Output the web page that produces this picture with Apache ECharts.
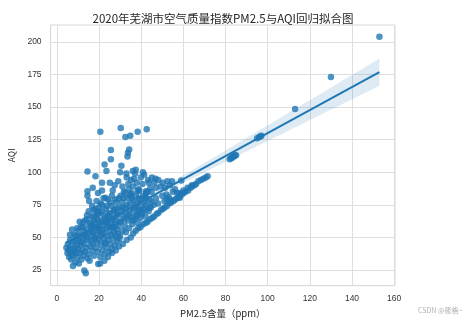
<!DOCTYPE html>
<html>
<head>
<meta charset="utf-8">
<script src="https://cdn.jsdelivr.net/npm/echarts@6/dist/echarts.min.js"></script>
<style>
  html, body { margin: 0; padding: 0; background: #fff; }
  #chart { width: 474px; height: 323px; }
</style>
</head>
<body>
<div id="chart"></div>
<script>
// Daily observations for 2020: [PM2.5, AQI]
const cleanDays = [
  [4.5,42],[5,38],[5.2,45],[5.8,35],[6,41],[6.3,48],[6.8,33],[7.6,28],[7,44],[7.4,39],
  [7.9,36],[8,47],[8.4,42],[8.8,31],[9,38],[9.1,51],[9.5,44],[9.8,35],[10,41],[10.2,55],
  [10.4,30],[10.6,47],[11,38],[11.2,44],[11.4,58],[11.6,33],[12,40],[12.1,49],[12.2,61],[12.6,36],
  [13,24.5],[13,45],[13.2,52],[13.7,22.5],[13.5,39],[14,42],[14.1,56],[14.2,64],[14.5,34],[14.6,48],
  [15,37],[15,53],[15.2,60],[9.6,57],[8.3,52],[10.8,62],[6.2,52],[7.2,56],[8.6,40],[11.8,46],
  [12.8,54],[13.8,50],[5.5,40],[6.6,37],[9.3,47],[10.9,51]
];
const mildDays = [
  [15.5,32],[15.8,43],[16,47],[16.2,51],[16.4,58],[16.6,66],[16.8,40],[17,45],[17.2,54],[17.4,71],
  [17.6,36],[17.8,49],[18,61],[18.3,57],[18.5,42],[18.7,52],[19,46],[19.2,64],[19.6,29.5],[19.4,39],
  [19.8,55],[20,48],[20.2,69],[20.4,59],[20.6,35],[20.8,51],[21,44],[21.2,63],[21.4,75],[21.6,40],
  [21.8,56],[22,49],[22.2,67],[22.4,53],[22.6,37],[22.8,60],[23,46],[23.2,72],[23.4,57],[23.6,42],
  [23.8,64],[24,51],[24.2,79],[24.4,48],[24.6,59],[24.8,39],[25,55],[25.2,68],[25.4,45],[25.6,62],
  [25.8,52],[26,74],[26.2,41],[26.4,58],[26.6,49],[26.8,65],[27,54],[27.2,70],[27.4,44],[27.6,60],
  [27.8,51],[28,63],[28.2,77],[28.4,56],[28.6,47],[28.8,67],[29,53],[29.2,59],[29.4,73],[29.6,49],
  [29.8,62],[18.9,67],[19.9,73],[17.5,63],[21.5,53],[23.9,61],[26.3,64],[16.9,59],[22.7,45],[24.3,66],
  [27.1,58],[20.3,56],[18.1,50]
];
const busyDays = [
  [12.4,58],[13.3,63],[14.3,67],[15.1,70],[15.9,61],[16.7,74],[17.3,66],[18.2,72],[18.8,78],[19.5,68],
  [20.1,62],[20.7,76],[21.3,70],[22.1,80],[22.9,65],[23.7,74],[24.5,69],[25.3,77],[26.1,82],[26.9,71],
  [27.7,79],[28.5,68],[29.3,80],[16.3,55],[19.3,58],[23.1,62],[25.9,58],[28.1,72]
];
const moderateDays = [
  [30,51],[30.3,62],[30.6,70],[30.9,77],[31.2,55],[31.5,66],[31.8,85],[32.1,59],[32.4,73],[32.7,54],
  [33,68],[33.3,80],[33.6,63],[33.9,91],[34.2,57],[34.5,71],[34.8,76],[35.1,65],[35.4,84],[35.7,60],
  [36,69],[36.3,78],[36.6,95],[36.9,64],[37.2,73],[37.5,82],[37.8,67],[38.1,76],[38.4,61],[38.7,87],
  [39,71],[39.3,79],[39.6,65],[39.9,74],[40.4,68],[40.8,82],[41.2,72],[41.6,77],[42,66],[42.5,75],
  [43,85],[43.5,70],[44,79],[44.5,73],[31,73],[32,64],[34,67],[36.5,73],[38.5,70],[33.2,75],[35.6,80]
];
const lineDays = [
  [30.2,82],[31.1,89],[32.3,84],[33.1,96],[34.1,87],[35.2,94],[36.1,89],[37.1,99],[37.9,92],[39.1,86],
  [39.8,96],[40.6,91],[41.4,98],[42.4,84],[43.2,94],[44.3,88],[45.1,96],[46.2,92],[47.1,88],[48.1,94],
  [49.2,89],[50.2,92],[51.3,88],[52.4,93],[53.5,90],[54.6,93],
  [34.7,82],[38.9,80],[41.9,81],[44.9,85],[46.8,95]
];
// Days where PM2.5 is the primary pollutant
const pm25LedDays = [
  [20.5,30],[22.5,32],[24.2,35],[26.1,38],[27.9,40],[29.5,43],[31.3,45],[33.1,48],[35,50],
  [36.2,53],[37.4,55],[38.6,57],[39.7,58],[40.9,60],[42.1,61],[43,62],[44.2,64],[45.3,65],[46.1,66],
  [47.3,68],[48.2,69],[49.4,71],[50.3,72],[51.1,73],[52.2,74],[53.4,76],[54.2,77],[55.3,78],[56.1,79],
  [56.9,80],[58,81],[59.2,83],[60.1,84],[61,85],[62.3,86],[63.4,88],[64.1,89],[65.2,90],[66,91],
  [67.1,93],[68.3,94],[69.5,95],[70.6,96],[71.5,97]
];
const mixedDays = [
  [36,63],[38,66],[40,69],[42,71],[44,73],[45,77],[46,75],[47,80],[48,76],[50,82],
  [51,78],[52,83],[53,81],[55,85],[56,87],[57,84],[58,84],[60,86],[62,88],[64,90],
  [43.6,92],[42.2,85.5],[38.3,85.5],[42.2,80.4],[52.2,79],[53.7,79],[58.3,80.4],[59,93.6]
];
const ozoneDays = [
  [20.6,131],[30.3,134],[34.8,128],[32.5,127],[38.3,131],[42.6,133],[25.6,117],[33.5,112],[33.7,115],[34.3,117.5],
  [25.6,110],[22.6,106],[30.6,105],[37.4,102],[40.8,100],[14.5,100.5],[23.5,101],[18.3,97],[21.4,92],[25.1,92],
  [29.1,93],[14.5,85.5],[14.5,82],[15.3,78],[21.4,86],[23,80.5],[19.1,70],[30,100],[33,99],[36,101],
  [27.4,90],[31.6,80],[35,83],[26.5,86],[17,88],[19.5,84]
];
const pollutedDays = [
  [82,110],[82.5,111],[83,111],[83.5,112],[84,112],[84.5,113],[85,113],[95,126],[96,127],[96.5,127.5],
  [97,128],[113,148.5],[130,173],[153,204]
];

const xTicks = [0, 20, 40, 60, 80, 100, 120, 140, 160];
const yTicks = [25, 50, 75, 100, 125, 150, 175, 200];

const points = [].concat(cleanDays, mildDays, busyDays, moderateDays, lineDays, pm25LedDays, mixedDays, ozoneDays, pollutedDays);

// Ordinary least squares fit with a 95% confidence band for the mean
const n = points.length;
let sx = 0, sy = 0;
points.forEach(p => { sx += p[0]; sy += p[1]; });
const mx = sx / n, my = sy / n;
let sxx = 0, sxy = 0;
points.forEach(p => { sxx += (p[0] - mx) ** 2; sxy += (p[0] - mx) * (p[1] - my); });
const slope = sxy / sxx;
const intercept = my - slope * mx;
let sse = 0;
points.forEach(p => { sse += (p[1] - intercept - slope * p[0]) ** 2; });
const se = Math.sqrt(sse / (n - 2));
const tCrit = 1.967;

const xs = points.map(p => p[0]);
const xMin = Math.min.apply(null, xs), xMax = Math.max.apply(null, xs);
const band = [];
for (let i = 0; i <= 100; i++) {
  const x = xMin + (xMax - xMin) * i / 100;
  const yh = intercept + slope * x;
  const h = tCrit * se * Math.sqrt(1 / n + (x - mx) ** 2 / sxx);
  band.push([x, yh - h, yh + h]);
}
const fitLine = [[xMin, intercept + slope * xMin], [xMax, intercept + slope * xMax]];

const blue = '#1f77b4';
const cjk = '"Noto Sans CJK SC", "Noto Sans", sans-serif';
const chart = echarts.init(document.getElementById('chart'), null, { renderer: 'canvas' });
chart.setOption({
  animation: false,
  backgroundColor: '#ffffff',
  title: {
    text: '2020年芜湖市空气质量指数PM2.5与AQI回归拟合图',
    left: 218, top: 8, textAlign: 'center',
    textStyle: { fontFamily: cjk, fontSize: 11.5, fontWeight: 'normal', color: '#262626' }
  },
  grid: { left: 42, right: 79, top: 25, bottom: 35, show: true, borderColor: '#d6d6d6', borderWidth: 1, containLabel: false },
  xAxis: {
    type: 'value', min: -3, max: 160.4,
    name: 'PM2.5含量（ppm）', nameLocation: 'middle', nameGap: 20,
    nameTextStyle: { fontFamily: cjk, fontSize: 9.5, color: '#262626' },
    axisLine: { show: false },
    axisTick: { show: false, customValues: xTicks },
    axisLabel: { customValues: xTicks, fontFamily: 'Liberation Sans', fontSize: 8.5, color: '#333', margin: 9 },
    splitLine: { show: true, lineStyle: { color: '#dedede', width: 1 } }
  },
  yAxis: {
    type: 'value', min: 13, max: 213,
    name: 'AQI', nameLocation: 'middle', nameGap: 28,
    nameTextStyle: { fontFamily: cjk, fontSize: 8.5, color: '#262626' },
    axisLine: { show: false },
    axisTick: { show: false, customValues: yTicks },
    axisLabel: { customValues: yTicks, fontFamily: 'Liberation Sans', fontSize: 8.5, color: '#333', margin: 9 },
    splitLine: { show: true, lineStyle: { color: '#dedede', width: 1 } }
  },
  graphic: [{
    type: 'text', left: 418, top: 307,
    style: { text: 'CSDN @筱格~', fontFamily: cjk, fontSize: 7, fill: '#b0b0b0' }
  }],
  series: [
    {
      type: 'scatter', data: points, symbolSize: 6.5,
      itemStyle: { color: blue, opacity: 0.8 }, z: 2, silent: true
    },
    {
      type: 'custom', data: [[0, 0]], z: 3, silent: true,
      renderItem: function (params, api) {
        const pts = band.map(b => api.coord([b[0], b[2]]));
        for (let i = band.length - 1; i >= 0; i--) pts.push(api.coord([band[i][0], band[i][1]]));
        return { type: 'polygon', shape: { points: pts }, style: { fill: 'rgba(31,119,180,0.15)' } };
      }
    },
    {
      type: 'line', data: fitLine, showSymbol: false, z: 4, silent: true,
      lineStyle: { color: blue, width: 2 }
    }
  ]
});
</script>
</body>
</html>
